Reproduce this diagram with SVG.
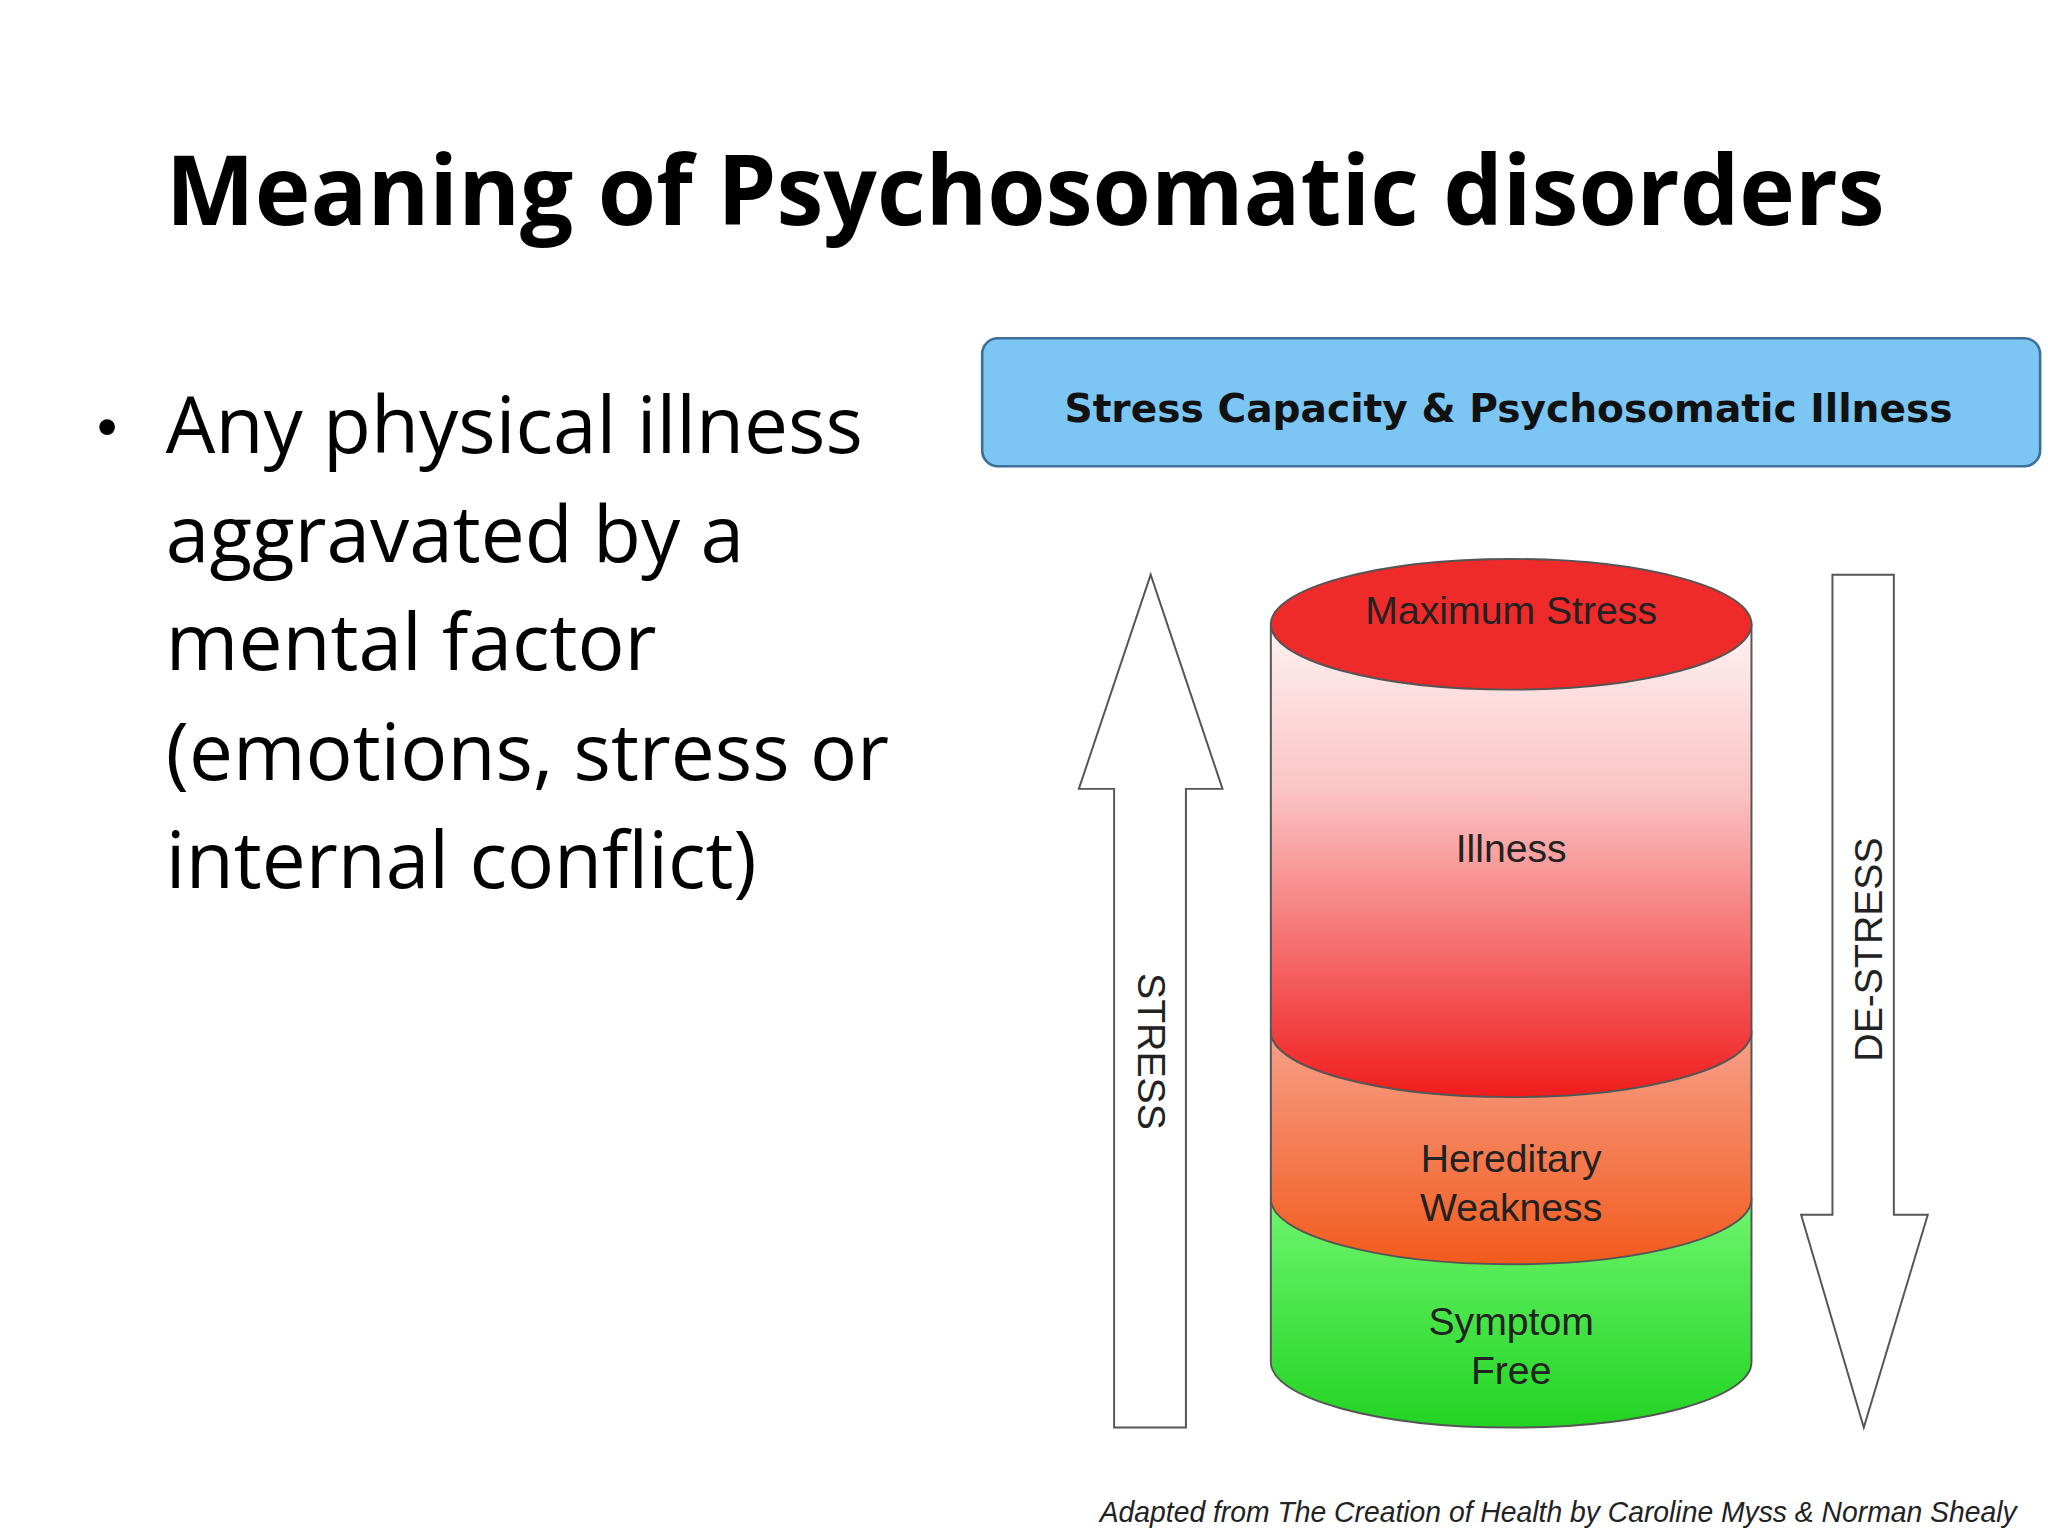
<svg xmlns="http://www.w3.org/2000/svg" width="2048" height="1536" viewBox="0 0 2048 1536">
<defs>
<linearGradient id="ill" x1="0" y1="0" x2="0" y2="1"><stop offset="0" stop-color="#fff2f2"/><stop offset="0.35" stop-color="#fbc4c4"/><stop offset="1" stop-color="#f01c1c"/></linearGradient>
<linearGradient id="her" x1="0" y1="0" x2="0" y2="1"><stop offset="0" stop-color="#f7a08a"/><stop offset="1" stop-color="#f25a1c"/></linearGradient>
<linearGradient id="grn" x1="0" y1="0" x2="0" y2="1"><stop offset="0" stop-color="#6ef56e"/><stop offset="1" stop-color="#22d422"/></linearGradient>
<style>
.s{stroke:#555;stroke-width:1.5}
.lab{font-family:"Liberation Sans",Arial,sans-serif;font-size:30px;fill:#222;text-anchor:middle}
.body{font-family:"Open Sans","Liberation Sans",sans-serif;font-size:60px;fill:#000}
</style>
</defs>
<rect width="2048" height="1536" fill="#fff"/>
<g transform="scale(1.3061)">
<g id="title"><text x="127" y="172" font-family="Open Sans, Liberation Sans, sans-serif" font-weight="bold" font-size="74" textLength="1316" lengthAdjust="spacingAndGlyphs">Meaning of Psychosomatic disorders</text></g>
<g id="bullet">
<circle cx="82" cy="327" r="6" fill="#000"/>
<text class="body" x="127" y="347">Any physical illness</text>
<text class="body" x="127" y="430">aggravated by a</text>
<text class="body" x="127" y="513">mental factor</text>
<text class="body" x="127" y="597">(emotions, stress or</text>
<text class="body" x="127" y="680">internal conflict)</text>
</g>
<g id="header"><rect x="752" y="259" width="810" height="98" rx="12" fill="#7cc6f4" stroke="#3f6f99" stroke-width="2"/>
<text x="1155" y="323" text-anchor="middle" font-family="DejaVu Sans, sans-serif" font-weight="bold" font-size="30" fill="#111" textLength="680" lengthAdjust="spacingAndGlyphs">Stress Capacity &amp; Psychosomatic Illness</text></g>
<g id="cylinder">
<path class="s" d="M973 918 V1043 A184 50 0 0 0 1341 1043 V918 Z" fill="url(#grn)"/>
<path class="s" d="M973 790 V918 A184 50 0 0 0 1341 918 V790 Z" fill="url(#her)"/>
<path class="s" d="M973 478 V790 A184 50 0 0 0 1341 790 V478 Z" fill="url(#ill)"/>
<ellipse class="s" cx="1157" cy="478" rx="184" ry="50" fill="#ee2a2a"/>
<text class="lab" x="1157" y="478">Maximum Stress</text>
<text class="lab" x="1157" y="660">Illness</text>
<text class="lab" x="1157" y="897">Hereditary</text>
<text class="lab" x="1157" y="935">Weakness</text>
<text class="lab" x="1157" y="1022">Symptom</text>
<text class="lab" x="1157" y="1060">Free</text>
</g>
<g id="connectors">
<path class="s" d="M853 1093 V604 H826 L881 440 L936 604 H908 V1093 Z" fill="#fff"/>
<path class="s" d="M1403 440 H1450 V930 H1476 L1427 1093 L1379 930 H1403 Z" fill="#fff"/>
<text class="lab" transform="translate(871 805) rotate(90)">STRESS</text>
<text class="lab" transform="translate(1441 727) rotate(-90)">DE-STRESS</text>
</g>
<text x="1193" y="1165" text-anchor="middle" font-family="Liberation Sans, sans-serif" font-style="italic" font-size="22" fill="#222" textLength="702" lengthAdjust="spacingAndGlyphs">Adapted from The Creation of Health by Caroline Myss &amp; Norman Shealy</text>
</g>
</svg>
